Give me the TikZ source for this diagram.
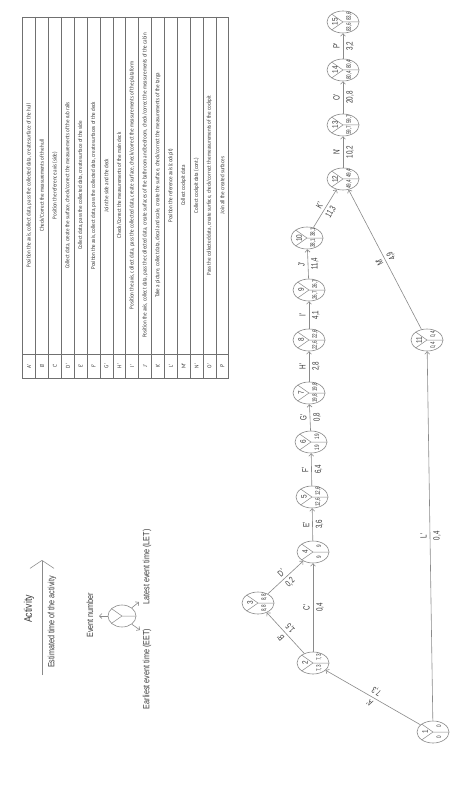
\documentclass[tikz,border=0pt]{standalone}
\usepackage{fontspec}
\setmainfont{Liberation Sans}
\newfontfamily\fA[FakeStretch=0.7]{Liberation Sans}
\newfontfamily\fB[FakeStretch=0.8]{Liberation Sans}
\newfontfamily\fT[FakeStretch=0.85]{Carlito}
\usetikzlibrary{shapes.geometric,arrows.meta,calc}
\definecolor{lc}{HTML}{8A8A8A}
\definecolor{tc}{HTML}{3A3A3A}
\definecolor{gc}{HTML}{707070}
\tikzset{
 ev/.style={ellipse,draw=lc,line width=0.6pt,minimum width=32pt,minimum height=22pt,inner sep=0pt},
 evno/.style={rotate=90,inner sep=0pt,text=tc,font=\fB\fontsize{8}{8}\selectfont},
 evt/.style={rotate=90,inner sep=0pt,text=tc,font=\fA\fontsize{6.5}{6.5}\selectfont},
 edge/.style={draw=lc,line width=0.6pt,-{Straight Barb[length=2.5pt,width=5pt]}},
 lbl/.style={text=tc,font=\fA\fontsize{9}{9}\selectfont,sloped,allow upside down,inner sep=1pt,midway},
 labA/.style={lbl,above=2pt},
 labB/.style={lbl,below=2pt},
 leg/.style={rotate=90,text=tc,inner sep=0pt,font=\fB\fontsize{9}{9}\selectfont},
 tabt/.style={rotate=90,text=tc,inner sep=0pt,font=\fT\fontsize{6}{6}\selectfont},
 tabline/.style={draw=gc,line width=0.5pt}
}
\newcommand\evnode[6]{%
 \node[ev] (#1) at (#2,#3) {};
 \draw[lc,line width=0.5pt] (#1.center) -- (#1.east) (#1.center) -- (#1.145) (#1.center) -- (#1.215);
 \node[evno] at ($(#1)+(-8,0)$) {#4};
 \node[evt] at ($(#1)+(6,5.5)$) {#5};
 \node[evt] at ($(#1)+(6,-5.5)$) {#6};
}
\newcommand\trow[3]{%
 \node[tabt] (d#1) at ({22.7+12.875*(#1-0.5)},185.5) {#3};
 \node[tabt] (l#1) at ({22.7+12.875*(#1-0.5)},366) {#2};
}
\begin{document}
\begin{tikzpicture}[x=1pt,y=-1pt]
\path[fill=white] (0,0) rectangle (474,786);
\useasboundingbox (0,0) rectangle (474,786);
% table
\draw[tabline] (22.7,17) rectangle (228.7,378);
\draw[tabline] (22.7,354) -- (228.7,354);
\foreach \i in {1,...,15} \draw[tabline] ({22.7+12.875*\i},17) -- ({22.7+12.875*\i},378);
\trow{1}{A'}{Position the axis, collect data, pass the collected data, create surface of the hull}
\trow{2}{B'}{Check/Correct the measurements of the hull}
\trow{3}{C'}{Position the reference axis (side)}
\trow{4}{D'}{Collect data, create the surface, check/correct the measurements of the rub rails}
\trow{5}{E'}{Collect data, pass the collected data, create surface of the side}
\trow{6}{F'}{Position the axis, collect data, pass the collected data, create surfaces of the deck}
\trow{7}{G'}{Join the side and the deck}
\trow{8}{H'}{Check/Correct the measurements of the main deck}
\trow{9}{I'}{Position the axis, collect data, pass the collected data, create surface, check/correct the measurements of the plataform}
\trow{10}{J'}{Position the axis, collect data, pass the collected data, create surfaces of the bathroom and bedroom, check/correct the measurements of the cabin}
\trow{11}{K'}{Take a picture, collect data, decal and scale, create the surface, check/correct the measurements of the targa}
\trow{12}{L'}{Position the reference axis (cockpit)}
\trow{13}{M'}{Collect cockpit data}
\trow{14}{N'}{Collect cockpit data (cont.)}
\trow{15}{O'}{Pass the collected data, create surface, check/correct the measurements of the cockpit}
\trow{16}{P'}{Join all the created surfaces}
% legend
\coordinate (La1) at (42,675);
\coordinate (La2) at (42,560);
\draw[draw=lc,line width=0.6pt,-{Straight Barb[length=8pt,width=24pt]}] (La1) -- (La2);
\node[leg,font=\fB\fontsize{11}{11}\selectfont] (tact) at (29,609) {Activity};
\node[leg] (test) at (52,622) {Estimated time of the activity};
\node[ev,minimum width=28pt] (L) at (122,616) {};
\draw[lc,line width=0.5pt] (L.center) -- (L.east) (L.center) -- (L.145) (L.center) -- (L.215);
\coordinate (Len) at (99,616);
\coordinate (Llet) at (139,602);
\coordinate (Leet) at (140,630);
\draw[edge] (L.west) -- (Len);
\draw[edge] (L.40) -- (Llet);
\draw[edge] (L.320) -- (Leet);
\node[leg] (tev) at (90,615) {Event number};
\node[leg] (teet) at (147,669) {Earliest event time (EET)};
\node[leg] (tlet) at (147,567) {Latest event time (LET)};
% network
\evnode{n1}{433}{732}{1}{0}{0}
\evnode{n2}{313}{663}{2}{7,3}{7,3}
\evnode{n3}{258}{603}{3}{8,8}{8,8}
\evnode{n4}{313}{552}{4}{9}{9}
\evnode{n5}{312}{497}{5}{12,6}{12,6}
\evnode{n6}{311}{442}{6}{19}{19}
\evnode{n7}{309}{393}{7}{19,8}{19,8}
\evnode{n8}{309}{340}{8}{22,6}{22,6}
\evnode{n9}{309}{290}{9}{26,7}{26,7}
\evnode{n10}{307}{238}{10}{38,1}{38,1}
\evnode{n11}{427}{340}{11}{0,4}{0,4}
\evnode{n12}{343}{179}{12}{49,4}{49,4}
\evnode{n13}{343}{125}{13}{59,7}{59,7}
\evnode{n14}{343}{70}{14}{80,4}{80,4}
\evnode{n15}{343}{22}{15}{83,6}{83,6}
\draw[edge] (n1) -- node[labA]{A'} node[labB]{7,3} (n2);
\draw[edge] (n2) -- node[labA]{B'} node[labB]{1,5} (n3);
\draw[edge] (n2) -- node[labA]{C'} node[labB]{0,4} (n4);
\draw[edge] (n3) -- node[labA]{D'} node[labB]{0,2} (n4);
\draw[edge] (n4) -- node[labA]{E'} node[labB]{3,6} (n5);
\draw[edge] (n5) -- node[labA]{F'} node[labB]{6,4} (n6);
\draw[edge] (n6) -- node[labA]{G'} node[labB]{0,8} (n7);
\draw[edge] (n7) -- node[labA]{H'} node[labB]{2,8} (n8);
\draw[edge] (n8) -- node[labA]{I'} node[labB]{4,1} (n9);
\draw[edge] (n9) -- node[labA]{J'} node[labB]{11,4} (n10);
\draw[edge] (n10) -- node[labA]{K'} node[labB]{11,3} (n12);
\draw[edge] (n1) -- node[labA]{L'} node[labB]{0,4} (n11);
\draw[edge] (n11) -- node[labA]{M'} node[labB]{4,9} (n12);
\draw[edge] (n12) -- node[labA]{N'} node[labB]{10,2} (n13);
\draw[edge] (n13) -- node[labA]{O'} node[labB]{20,8} (n14);
\draw[edge] (n14) -- node[labA]{P'} node[labB]{3,2} (n15);
\end{tikzpicture}
\end{document}
